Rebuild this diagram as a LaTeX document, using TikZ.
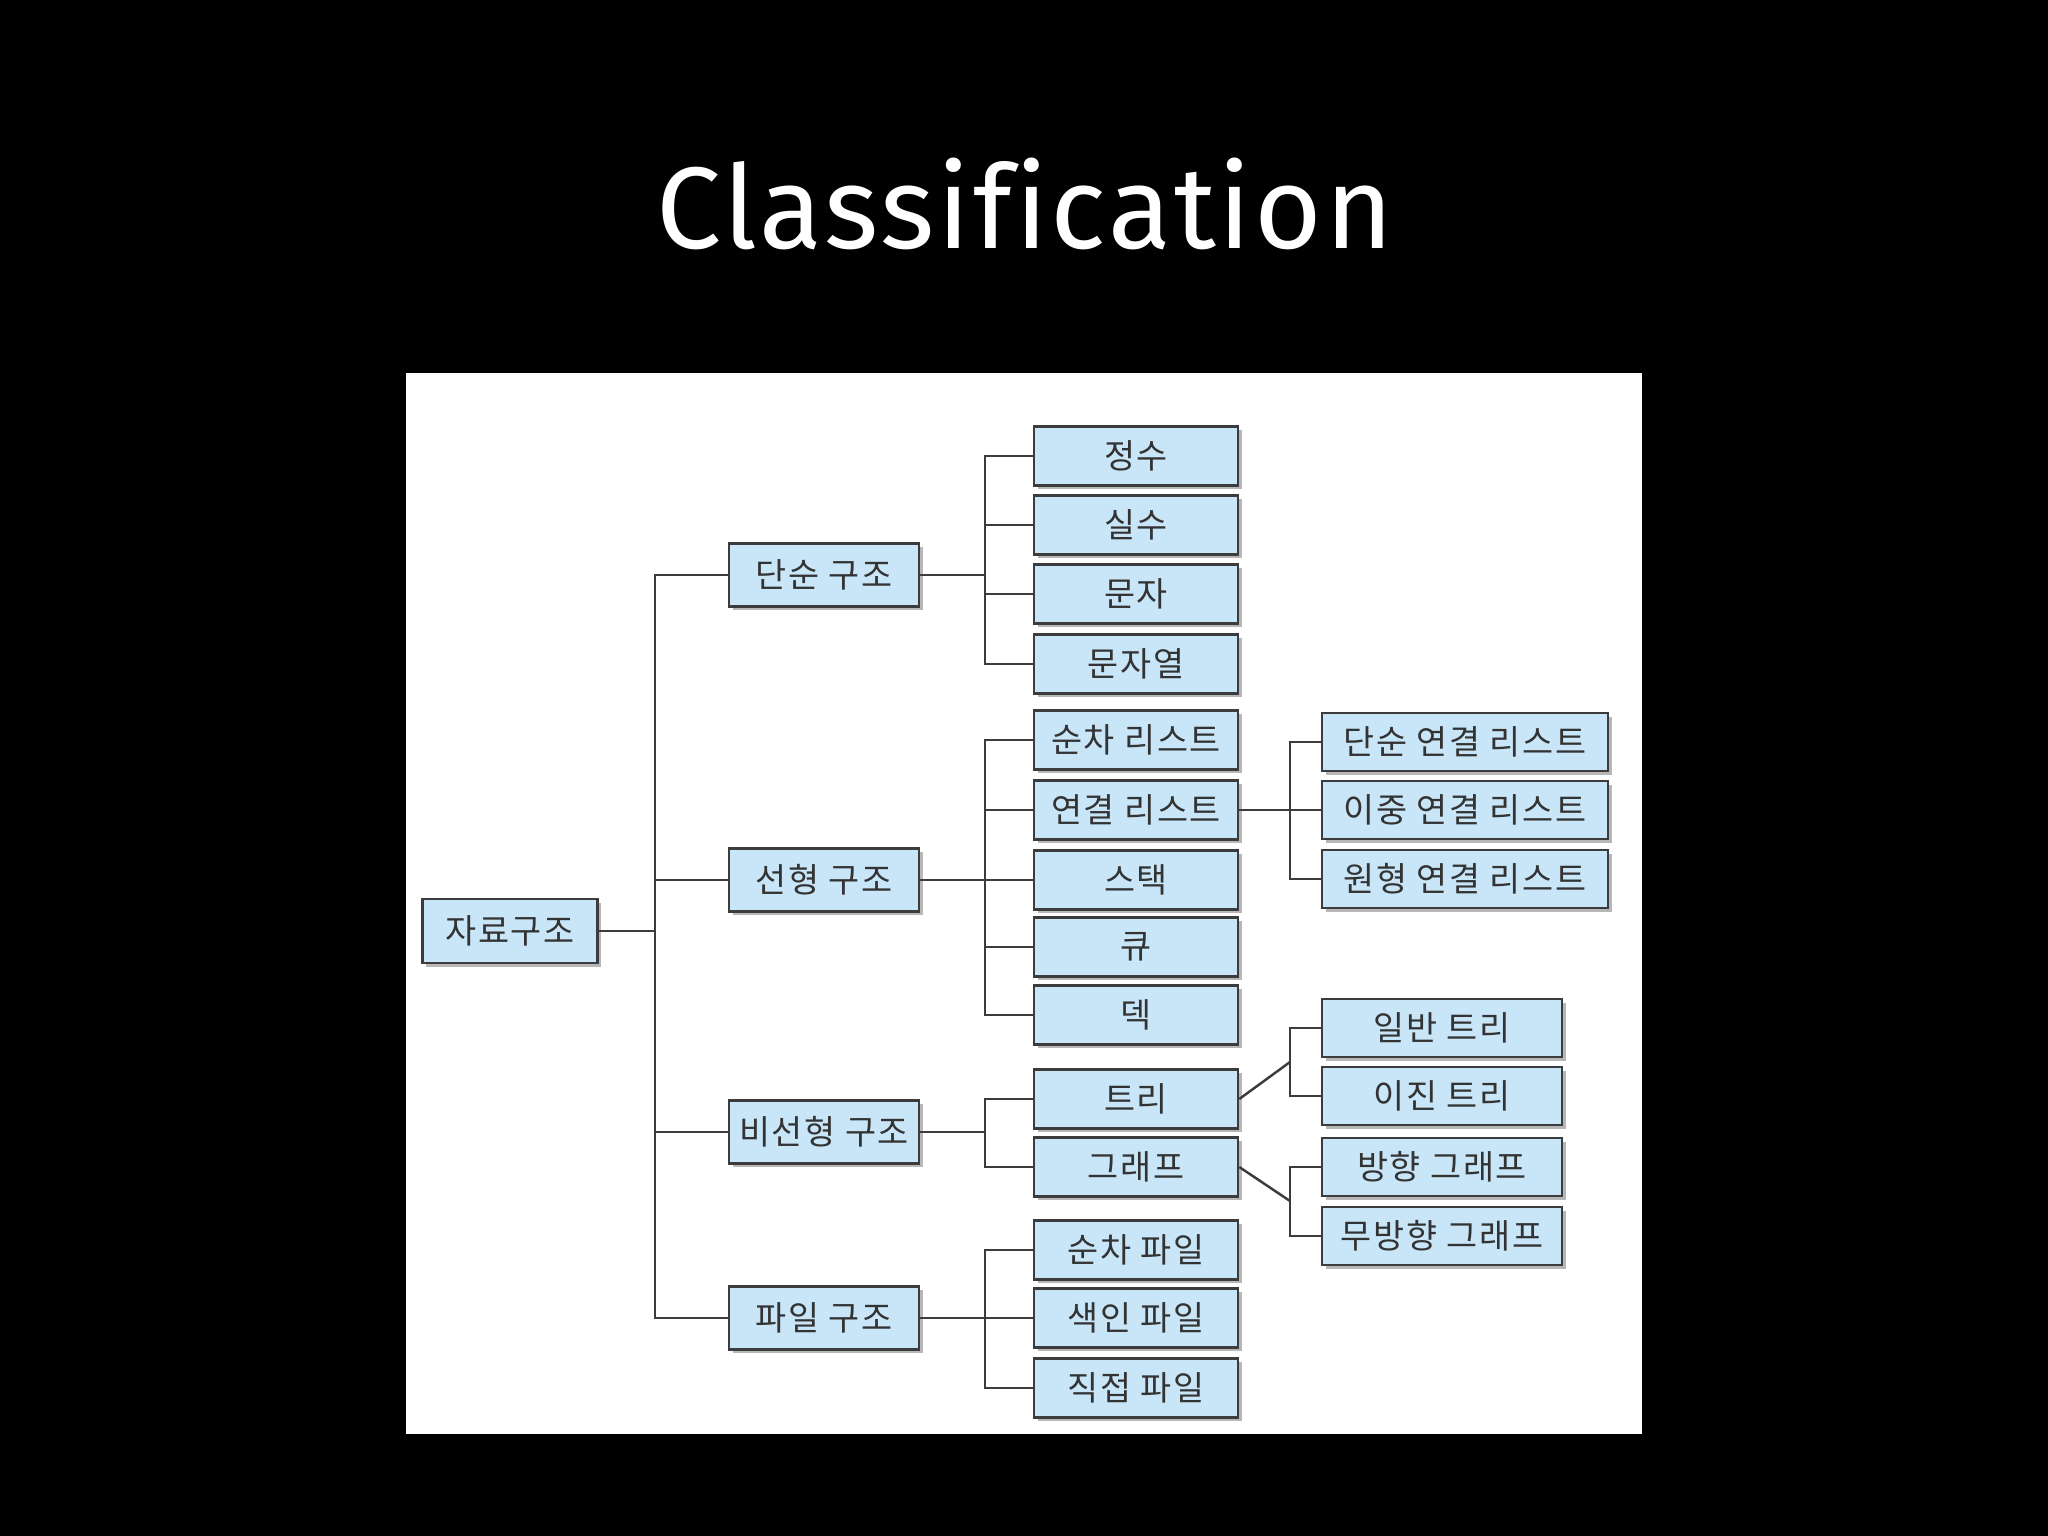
\documentclass[tikz,border=0pt]{standalone}
\usepackage{fontspec}
\setmainfont{Fira Sans}
\newfontfamily\titlefont[LetterSpace=2.5,Ligatures=NoCommon]{Fira Sans}
\newfontfamily\kofont[LetterSpace=5]{Noto Sans CJK KR}
\usetikzlibrary{shadows}
\definecolor{boxblue}{RGB}{200,230,248}
\definecolor{linegray}{RGB}{60,60,60}
\tikzset{
  ds/.style={draw=linegray,line width=0.7pt,fill=boxblue,inner sep=0pt,
    font=\kofont\fontsize{9.6}{11}\selectfont,text=black!80,
    drop shadow={shadow xshift=1.1pt,shadow yshift=-1.1pt,fill=black!35,opacity=0.8}},
  rootbox/.style={ds,minimum width=1.75cm,minimum height=0.64cm},
  kindbox/.style={ds,minimum width=1.90cm,minimum height=0.63cm},
  itembox/.style={ds,minimum width=2.04cm,minimum height=0.59cm},
  listbox/.style={ds,minimum width=2.86cm,minimum height=0.58cm},
  treebox/.style={ds,minimum width=2.40cm,minimum height=0.58cm},
  link/.style={draw=linegray,line width=0.7pt}
}
\begin{document}
\begin{tikzpicture}[x=0.01cm,y=-0.01cm]
\fill[black] (0,0) rectangle (2048,1536);
\fill[white] (406,373) rectangle (1642,1434);
\node[text=white,font=\titlefont\fontsize{33}{36}\selectfont] (title) at (1025,204) {Classification};
% root and kinds
\node[rootbox] (root) at (510,931) {자료구조};
\node[kindbox] (simple) at (824,575) {단순 구조};
\node[kindbox] (linear) at (824,880) {선형 구조};
\node[kindbox] (nonlin) at (824,1132) {비선형 구조};
\node[kindbox] (file) at (824,1318) {파일 구조};
% second level
\node[itembox] (int) at (1136,456) {정수};
\node[itembox] (real) at (1136,525) {실수};
\node[itembox] (char) at (1136,594) {문자};
\node[itembox] (str) at (1136,664) {문자열};
\node[itembox] (seqlist) at (1136,740) {순차 리스트};
\node[itembox] (linklist) at (1136,810) {연결 리스트};
\node[itembox] (stack) at (1136,880) {스택};
\node[itembox] (queue) at (1136,947) {큐};
\node[itembox] (deque) at (1136,1015) {덱};
\node[itembox] (tree) at (1136,1099) {트리};
\node[itembox] (graph) at (1136,1167) {그래프};
\node[itembox] (seqfile) at (1136,1250) {순차 파일};
\node[itembox] (idxfile) at (1136,1318) {색인 파일};
\node[itembox] (dirfile) at (1136,1388) {직접 파일};
% third level
\node[listbox] (single) at (1465,742) {단순 연결 리스트};
\node[listbox] (double) at (1465,810) {이중 연결 리스트};
\node[listbox] (circ) at (1465,879) {원형 연결 리스트};
\node[treebox] (gentree) at (1442,1028) {일반 트리};
\node[treebox] (bintree) at (1442,1096) {이진 트리};
\node[treebox] (digraph) at (1442,1167) {방향 그래프};
\node[treebox] (undigraph) at (1442,1236) {무방향 그래프};
% junctions
\coordinate (jroot) at (655,931);
\coordinate (jsimple) at (985,575);
\coordinate (jlinear) at (985,880);
\coordinate (jnonlin) at (985,1132);
\coordinate (jfile) at (985,1318);
\coordinate (jlist) at (1290,810);
\coordinate (jtree) at (1290,1062);
\coordinate (jgraph) at (1290,1201);
% connectors
\draw[link] (root) -- (jroot);
\foreach \n in {simple,linear,nonlin,file} \draw[link] (jroot) |- (\n.west);
\draw[link] (simple) -- (jsimple);
\foreach \n in {int,real,char,str} \draw[link] (jsimple) |- (\n.west);
\draw[link] (linear) -- (jlinear);
\foreach \n in {seqlist,linklist,stack,queue,deque} \draw[link] (jlinear) |- (\n.west);
\draw[link] (nonlin) -- (jnonlin);
\foreach \n in {tree,graph} \draw[link] (jnonlin) |- (\n.west);
\draw[link] (file) -- (jfile);
\foreach \n in {seqfile,idxfile,dirfile} \draw[link] (jfile) |- (\n.west);
\draw[link] (linklist) -- (jlist);
\foreach \n in {single,double,circ} \draw[link] (jlist) |- (\n.west);
\draw[link] (tree.east) -- (jtree);
\foreach \n in {gentree,bintree} \draw[link] (jtree) |- (\n.west);
\draw[link] (graph.east) -- (jgraph);
\foreach \n in {digraph,undigraph} \draw[link] (jgraph) |- (\n.west);
\end{tikzpicture}
\end{document}
